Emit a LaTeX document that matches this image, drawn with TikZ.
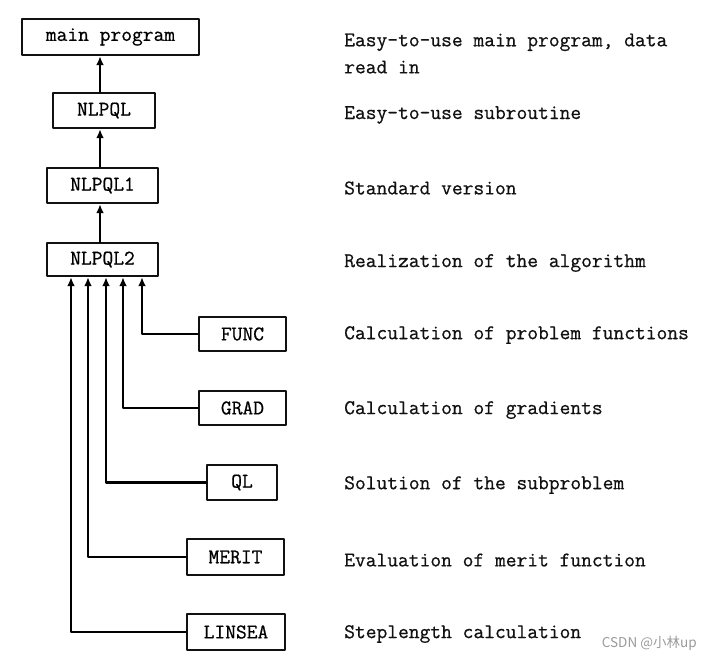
\documentclass[tikz,border=0pt]{standalone}
\usepackage{fontspec}
\newfontfamily\cjk{Noto Sans CJK SC}
\newfontfamily\typew[FakeBold=0.7]{Latin Modern Mono}
\usetikzlibrary{positioning, arrows.meta, calc}
\definecolor{figink}{HTML}{111111}
\definecolor{wmark}{HTML}{9A9A9A}

\begin{document}
\begin{tikzpicture}[
  x=1cm, y=1cm,
  line width=1.4pt, line cap=round, line join=round,
  >={Latex[length=5pt,width=4.4pt]},
  prog/.style = {draw=figink, line width=1.4pt, minimum height=0.7cm,
                 inner sep=2pt, anchor=center,
                 font=\fontsize{11.9}{15.4}\selectfont\typew},
  desc/.style = {anchor=west, inner sep=0pt, align=left, text=figink,
                 font=\fontsize{11.9}{15.4}\selectfont\typew}
]
\useasboundingbox (0,0) rectangle (14.3,-13.22);

% Programmkette
\node[prog, minimum width=3.54cm, minimum height=0.72cm] (mainprog) at (2.21,-0.74) {main program};
\node[prog, minimum width=2.04cm] (nlpql)    at (2.08,-2.21) {NLPQL};
\node[prog, minimum width=2.22cm] (nlpqlone) at (2.05,-3.71) {NLPQL1};
\node[prog, minimum width=2.22cm, minimum height=0.66cm] (nlpqltwo) at (2.05,-5.19) {NLPQL2};
% Unterprogramme
\node[prog, minimum width=1.74cm, minimum height=0.68cm] (func)   at (4.85,-6.68)  {FUNC};
\node[prog, minimum width=1.74cm, minimum height=0.68cm] (grad)   at (4.85,-8.16)  {GRAD};
\node[prog, minimum width=1.40cm] (ql)     at (4.84,-9.65)  {QL};
\node[prog, minimum width=1.94cm, minimum height=0.72cm] (merit)  at (4.71,-11.14) {MERIT};
\node[prog, minimum width=1.96cm, minimum height=0.72cm] (linsea) at (4.72,-12.64) {LINSEA};

% Aufrufe nach oben
\draw[->] (nlpql.north -| 2.0,0) -- (mainprog.south -| 2.0,0);
\draw[->] (nlpqlone.north -| 2.0,0) -- (nlpql.south -| 2.0,0);
\draw[->] (nlpqltwo.north -| 2.0,0) -- (nlpqlone.south -| 2.0,0);
\foreach \n/\dx in {func/0.79, grad/0.41, ql/0.07, merit/-0.29, linsea/-0.63}
  \draw[->] (\n.west) -| ([xshift=\dx cm]nlpqltwo.south);

% Beschreibungen
\node[desc] (dmain)   at (6.86,-1.07)  {Easy-to-use main program, data\\read in};
\node[desc] (dnlpql)  at (6.86,-2.30)  {Easy-to-use subroutine};
\node[desc] (dnlone)  at (6.86,-3.76)  {Standard version};
\node[desc] (dnltwo)  at (6.86,-5.26)  {Realization of the algorithm};
\node[desc] (dfunc)   at (6.86,-6.70)  {Calculation of problem functions};
\node[desc] (dgrad)   at (6.86,-8.20)  {Calculation of gradients};
\node[desc] (dql)     at (6.86,-9.70)  {Solution of the subproblem};
\node[desc] (dmerit)  at (6.86,-11.20) {Evaluation of merit function};
\node[desc] (dlinsea) at (6.86,-12.68) {Steplength calculation};

\node[anchor=east, inner sep=0pt, text=wmark, font=\fontsize{7.7}{9}\selectfont\cjk]
  (wm) at (13.96,-12.86) {CSDN @小林up};

\end{tikzpicture}
\end{document}
